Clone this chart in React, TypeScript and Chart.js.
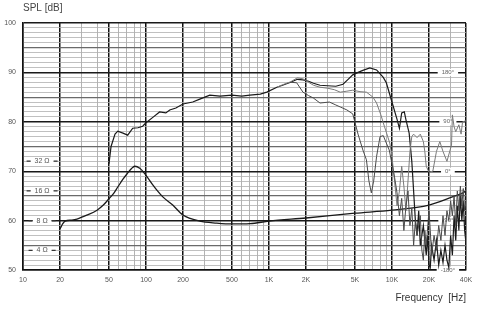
import { useEffect, useRef } from 'react';
import { Chart, registerables } from 'chart.js';
Chart.register(...registerables);

// ---- axis ticks ----
const majorFreqs = [10, 20, 50, 100, 200, 500, 1000, 2000, 5000, 10000, 20000, 40000];
const majorFreqLabels = ['10', '20', '50', '100', '200', '500', '1K', '2K', '5K', '10K', '20K', '40K'];
const yTickLabelsEvery = 10;

// impedance scale labels (ohm) and phase labels (placed on dB grid lines)
const impedanceTicks = [4, 8, 16, 32];
const impedanceTickLabels = ['4 Ω', '8 Ω', '16 Ω', '32 Ω'];
const phaseGridDb = [90, 80, 70, 60, 50];
const phaseLabels = ['180°', '90°', '0°', '-90°', '-180°'];

// ---- on-axis SPL ----
const onAxisFreq = [50, 52, 56, 59, 65, 71, 78, 86, 94, 100, 115, 129, 145, 156, 175, 200, 240, 274, 330, 400, 500, 600, 700, 850, 960, 1160, 1290, 1500, 1700, 1890, 2100, 2300, 2600, 3000, 3500, 4000, 4400, 4800, 5300, 5800, 6600, 7500, 8500, 9000, 10000, 11000, 11500, 12000, 12600, 13000, 13800, 14500, 15000, 15500, 16000, 16500, 17000, 18000, 19000, 19500, 20000, 20500, 21000, 22000, 23000, 24000, 25000, 26000, 27000, 28000, 29000, 30000, 31000, 32000, 33000, 34000, 35000, 36000, 37000, 38000, 39000, 40000];
const onAxisSpl = [71.5, 75, 77.5, 78.1, 77.7, 77.3, 78.7, 78.8, 79.1, 79.8, 81, 82, 81.8, 82.4, 82.8, 83.6, 84, 84.6, 85.4, 85.2, 85.4, 85.2, 85.4, 85.6, 86, 87, 87.4, 88, 88.6, 88.5, 88.2, 87.8, 87.4, 87.3, 87.2, 87.6, 88.6, 89.5, 90, 90.4, 90.9, 90.5, 89, 87.9, 84, 80.5, 78.7, 81.8, 82, 80.4, 77.7, 72, 66, 60, 57, 62, 55, 59, 53, 57, 51, 50.5, 55, 52, 56, 51, 54, 51.5, 55, 52, 50.5, 57, 53, 61, 56, 63, 58, 65, 60, 64, 58, 55.5];

// ---- 30° SPL ----
const spl30Freq = [1160, 1290, 1500, 1700, 1890, 2100, 2300, 2600, 3000, 3400, 3800, 4300, 4800, 5500, 6200, 7000, 7500, 8100, 8700, 9600, 10000, 10500, 11000, 11500, 12000, 12500, 13000, 13500, 14000, 14500, 15000, 16000, 17000, 18000, 18500, 19000, 20000, 21500, 23000, 24500, 26000, 28000, 30500, 31000, 32000, 33000, 35000, 36500, 37500, 40000];
const spl30 = [87, 87.5, 88.1, 88.9, 88.7, 88, 87.4, 87, 86.8, 86.5, 86, 86.2, 86.4, 86.1, 86, 85, 83.8, 81.5, 79, 75.7, 73, 68, 63, 66, 71, 67, 62, 68, 74, 77, 77.5, 76.8, 77.5, 76, 74, 71, 69.8, 70, 74, 76, 74, 72, 75.3, 81.4, 79, 78, 79.4, 77.5, 80, 80.2];

// ---- 60° SPL ----
const spl60Freq = [1500, 1680, 1890, 2100, 2300, 2600, 3100, 3500, 3800, 4300, 4800, 5300, 5800, 6200, 6500, 6800, 7100, 7500, 8000, 8500, 9000, 9500, 10000, 10500, 11000, 11500, 12000, 12500, 13000, 13500, 14000, 14500, 15000, 15500, 16000, 17000, 17500, 18000, 18500, 19000, 20000, 20500, 21000, 22000, 23000, 24000, 25000, 26000, 27000, 28000, 29000, 30000, 31000, 32000, 33000, 34000, 35000, 36000, 37000, 38000, 39000, 40000];
const spl60 = [88, 87.9, 86, 85.3, 84.8, 83.8, 84, 83.4, 83, 82.4, 81.6, 77.5, 74.3, 72.3, 68, 65.6, 68, 73, 77, 77.2, 75.7, 74.3, 71.5, 68.8, 65.6, 61, 64.5, 58, 63, 66, 59, 62.5, 55, 60, 57, 61, 54, 52, 58, 55, 62, 58, 53, 57, 54, 59, 56, 61, 57, 62, 60, 64, 61, 65, 59, 66, 62, 67, 63, 66.5, 62, 64];

// ---- impedance (ohm) ----
const impFreq = [20, 20.5, 21, 22, 25, 27.5, 33, 40, 45, 50, 55, 59, 65, 70, 76, 81, 89, 100, 114, 125, 137, 165, 200, 274, 376, 505, 700, 1000, 2000, 5000, 10000, 20000, 31000, 37500, 40000];
const impOhm = [6.6, 7.0, 7.4, 7.9, 8.1, 8.3, 9.07, 10.2, 11.5, 13.3, 15.3, 17.5, 21, 23.7, 26.8, 28.4, 27.1, 23.0, 18.3, 15.8, 13.9, 11.5, 9.1, 7.9, 7.55, 7.4, 7.45, 7.9, 8.5, 9.5, 10.2, 11.5, 13.9, 15.2, 16];

const impLabelFreq = 14.3;
const phaseLabelFreq = 28500;

const ohmToDb = (z: number) => 60 + 20 * Math.log10(z / 8);

const gridFreqs: number[] = [];
[10, 100, 1000, 10000].forEach((d) => {
  for (let m = 1; m <= 9; m++) if (m * d <= 40000) gridFreqs.push(m * d);
});
const gridDb: number[] = [];
for (let v = 50; v <= 100; v++) gridDb.push(v);

const FONT = '"Liberation Sans", Arial, sans-serif';

const annotPlugin = {
  id: 'annots',
  beforeDatasetsDraw(chart: any) {
    const { ctx, scales } = chart;
    const x = scales.x, y = scales.y;
    ctx.save();
    ctx.font = `7px ${FONT}`;
    ctx.textAlign = 'center';
    ctx.textBaseline = 'middle';
    impedanceTicks.forEach((ohm, i) => {
      const py = y.getPixelForValue(ohmToDb(ohm));
      const px = x.getPixelForValue(impLabelFreq);
      const text = impedanceTickLabels[i];
      const w = ctx.measureText(text).width + 8;
      ctx.fillStyle = '#fff';
      ctx.fillRect(px - w / 2, py - 3.5, w, 7);
      ctx.strokeStyle = '#333';
      ctx.lineWidth = 1.4;
      ctx.beginPath();
      ctx.moveTo(px - w / 2 - 4, py); ctx.lineTo(px - w / 2, py);
      ctx.moveTo(px + w / 2, py); ctx.lineTo(px + w / 2 + 4, py);
      ctx.stroke();
      ctx.fillStyle = '#555';
      ctx.fillText(text, px, py);
    });
    ctx.font = `6px ${FONT}`;
    phaseGridDb.forEach((db, i) => {
      const py = y.getPixelForValue(db);
      const px = x.getPixelForValue(phaseLabelFreq);
      const text = phaseLabels[i];
      const w = ctx.measureText(text).width + 8;
      ctx.fillStyle = '#fff';
      ctx.fillRect(px - w / 2, py - 3.5, w, 7);
      ctx.fillStyle = '#666';
      ctx.fillText(text, px, py);
    });
    ctx.restore();
  },
  afterDraw(chart: any) {
    const { ctx, chartArea } = chart;
    ctx.save();
    ctx.font = `10px ${FONT}`;
    ctx.fillStyle = '#444';
    ctx.textAlign = 'left';
    ctx.textBaseline = 'middle';
    ctx.fillText('SPL [dB]', chartArea.left, 8);
    ctx.restore();
  },
};

const toXY = (fs: number[], vs: number[]) => fs.map((f, i) => ({ x: f, y: vs[i] }));

export default function App() {
  const ref = useRef<HTMLCanvasElement>(null);
  useEffect(() => {
    document.body.style.margin = '0';
    const chart = new Chart(ref.current!, {
      type: 'line',
      data: {
        datasets: [
          { label: '60°', data: toXY(spl60Freq, spl60), borderColor: '#4a4a4a', borderWidth: 1 },
          { label: '30°', data: toXY(spl30Freq, spl30), borderColor: '#7a7a7a', borderWidth: 1 },
          { label: '0°', data: toXY(onAxisFreq, onAxisSpl), borderColor: '#1a1a1a', borderWidth: 1.2 },
          { label: 'Impedance', data: toXY(impFreq, impOhm.map(ohmToDb)), borderColor: '#1a1a1a', borderWidth: 1.3, cubicInterpolationMode: 'monotone' },
        ],
      },
      options: {
        responsive: false,
        animation: false,
        events: [],
        elements: { point: { radius: 0 }, line: { tension: 0, fill: false } },
        layout: { padding: { top: 23, right: 14, left: 0, bottom: 0 } },
        plugins: { legend: { display: false }, tooltip: { enabled: false }, title: { display: false } },
        scales: {
          x: {
            type: 'logarithmic',
            min: 10,
            max: 40000,
            afterBuildTicks: (s: any) => { s.ticks = gridFreqs.map((v) => ({ value: v })); },
            afterFit: (s: any) => { s.height = 40; },
            ticks: {
              autoSkip: false,
              maxRotation: 0,
              padding: 6,
              font: { family: FONT, size: 7 },
              color: '#555',
              callback: (v: any) => {
                const i = majorFreqs.indexOf(Number(v));
                return i >= 0 ? majorFreqLabels[i] : '';
              },
            },
            grid: {
              drawTicks: false,
              color: (c: any) => (majorFreqs.includes(c.tick?.value) ? '#111' : '#a0a0a0'),
              lineWidth: (c: any) => (majorFreqs.includes(c.tick?.value) ? 1.5 : 0.8),
            },
            border: { display: true, color: '#111', width: 1.5 },
            title: {
              display: true,
              text: 'Frequency  [Hz]',
              align: 'end',
              color: '#333',
              font: { family: FONT, size: 10 },
              padding: { top: 0, bottom: 6 },
            },
          },
          y: {
            type: 'linear',
            min: 50,
            max: 100,
            afterBuildTicks: (s: any) => { s.ticks = gridDb.map((v) => ({ value: v })); },
            afterFit: (s: any) => { s.width = 23; },
            ticks: {
              autoSkip: false,
              padding: 7,
              font: { family: FONT, size: 7 },
              color: '#555',
              callback: (v: any) => (Number(v) % yTickLabelsEvery === 0 ? String(v) : ''),
            },
            grid: {
              drawTicks: false,
              color: (c: any) => {
                const v = c.tick?.value;
                if (v % 10 === 0) return '#1a1a1a';
                if (v % 5 === 0) return '#6a6a6a';
                return '#b0b0b0';
              },
              lineWidth: (c: any) => {
                const v = c.tick?.value;
                if (v % 10 === 0) return 1.4;
                if (v % 5 === 0) return 1.2;
                return 0.8;
              },
            },
            border: { display: true, color: '#111', width: 1.5 },
          },
        },
      },
      plugins: [annotPlugin],
    } as any);
    return () => chart.destroy();
  }, []);
  return <canvas ref={ref} width={480} height={310} style={{ display: 'block' }} />;
}
